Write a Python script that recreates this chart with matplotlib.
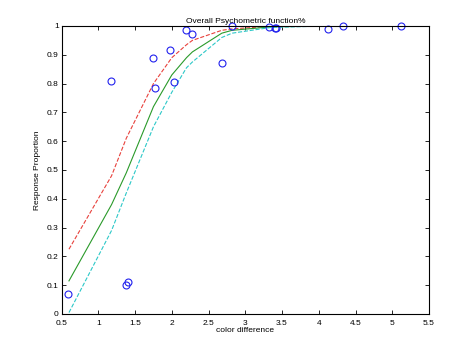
import matplotlib
matplotlib.use("Agg")
import matplotlib.pyplot as plt
import numpy as np

plt.rcParams['font.family'] = ['Liberation Sans', 'DejaVu Sans']

# observed proportions
stim_x = [0.59, 1.17, 1.37, 1.40, 1.74, 1.77, 1.98, 2.03, 2.19, 2.28,
          2.68, 2.82, 3.32, 3.40, 3.42, 4.12, 4.33, 5.12]
stim_y = [0.07, 0.81, 0.10, 0.11, 0.89, 0.785, 0.915, 0.805, 0.987, 0.973,
          0.873, 1.0, 0.995, 0.993, 0.992, 0.99, 1.0, 1.0]

# fitted curve and bounds
fit_x = [0.6, 1.18, 1.38, 1.75, 2.0, 2.2, 2.28, 2.68, 2.82, 3.35, 4.12, 4.33, 5.12]
fit_mid = [0.115, 0.38, 0.49, 0.72, 0.83, 0.89, 0.91, 0.975, 0.985, 0.997, 1.0, 1.0, 1.0]
fit_hi = [0.225, 0.48, 0.61, 0.80, 0.89, 0.935, 0.95, 0.985, 0.99, 0.999, 1.0, 1.0, 1.0]
fit_lo = [0.005, 0.29, 0.42, 0.65, 0.77, 0.855, 0.875, 0.96, 0.975, 0.995, 1.0, 1.0, 1.0]

fig = plt.figure(figsize=(4.74, 3.54), dpi=100)
ax = fig.add_axes([0.130, 0.113, 0.775, 0.8136])

ax.plot(fit_x, fit_hi, '--', color='#e8413c', linewidth=0.8)
ax.plot(fit_x, fit_mid, '-', color='#2a9a2a', linewidth=0.8)
ax.plot(fit_x, fit_lo, '--', color='#2cc8c8', linewidth=0.8)
ax.plot(stim_x, stim_y, 'o', markerfacecolor='none', markeredgecolor='#2222ee',
        markersize=5, markeredgewidth=0.8, clip_on=False)

ax.set_xlim(0.5, 5.5)
ax.set_ylim(0, 1)
ax.set_xticks(np.arange(0.5, 5.51, 0.5))
ax.set_xticklabels(['0.5', '1', '1.5', '2', '2.5', '3', '3.5', '4', '4.5', '5', '5.5'])
ax.set_yticks(np.arange(0, 1.01, 0.1))
ax.set_yticklabels(['0', '0.1', '0.2', '0.3', '0.4', '0.5', '0.6', '0.7', '0.8', '0.9', '1'])
ax.tick_params(direction='in', top=True, right=True, length=3, width=0.6,
               labelsize=6, pad=2)
ax.tick_params(axis='x', pad=4)
for s in ax.spines.values():
    s.set_linewidth(0.8)

ax.set_title('Overall Psychometric function%', fontsize=6, pad=2)
ax.set_xlabel('color difference', fontsize=6, labelpad=0)
ax.set_ylabel('Response Proportion', fontsize=6, labelpad=4)

fig.savefig('out.png', dpi=100)
